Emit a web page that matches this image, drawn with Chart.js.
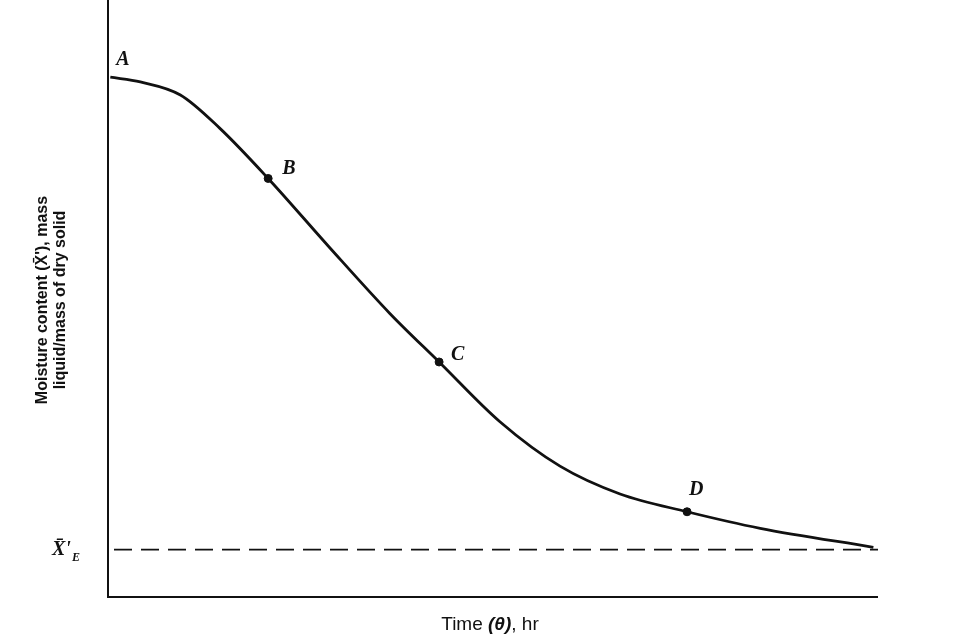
<!DOCTYPE html>
<html><head><meta charset="utf-8">
<script src="https://cdn.jsdelivr.net/npm/chart.js@4"></script>
<style>html,body{margin:0;padding:0;background:#fff}#w{width:968px;height:634px}</style>
</head><body><div id="w"><canvas id="c"></canvas></div>
<script>
const curveX = [0.3, 4.2, 9.4, 14.5, 20.8, 28.8, 36.6, 43.0, 50.9, 58.7, 66.5, 75.2, 84.7, 99.4];
const curveY = [87.8, 87.0, 84.8, 79.2, 70.7, 59.0, 47.9, 39.7, 29.6, 22.1, 17.4, 14.4, 11.6, 8.4];
const markLabels = ['B', 'C', 'D'];
const markX = [20.8, 43.0, 75.2];
const markY = [70.7, 39.7, 14.4];
const equilibriumY = 8.0;
const xTitle = ['Time ', '(θ)', ', hr'];
const yTitle = ["Moisture content (X̄'), mass", 'liquid/mass of dry solid'];

const deco = {
  id: 'deco',
  afterDraw(chart) {
    const {ctx, chartArea: a, scales: {x, y}} = chart;
    ctx.save();
    ctx.strokeStyle = '#111'; ctx.lineWidth = 2;
    ctx.beginPath(); ctx.moveTo(a.left, 0); ctx.lineTo(a.left, a.bottom); ctx.lineTo(a.right, a.bottom); ctx.stroke();
    ctx.lineWidth = 1.6; ctx.setLineDash([18, 9]);
    const ey = y.getPixelForValue(equilibriumY);
    ctx.beginPath(); ctx.moveTo(a.left + 6, ey); ctx.lineTo(a.right, ey); ctx.stroke();
    ctx.setLineDash([]);
    ctx.fillStyle = '#111';
    ctx.font = 'italic bold 20px "Liberation Serif", serif';
    ctx.fillText('A', x.getPixelForValue(curveX[0]) + 6, y.getPixelForValue(curveY[0]) - 12);
    const off = [[14, -4], [12, -2], [2, -17]];
    markLabels.forEach((l, i) => ctx.fillText(l, x.getPixelForValue(markX[i]) + off[i][0], y.getPixelForValue(markY[i]) + off[i][1]));
    ctx.fillText("X̄'", 52, ey + 5);
    ctx.font = 'italic bold 12px "Liberation Serif", serif';
    ctx.fillText('E', 72, ey + 11);
    // x title
    ctx.font = '19px "Liberation Sans", Arial, sans-serif';
    const w0 = ctx.measureText(xTitle[0]).width;
    ctx.font = 'italic bold 19px "Liberation Sans", Arial, sans-serif';
    const w1 = ctx.measureText(xTitle[1]).width;
    ctx.font = '19px "Liberation Sans", Arial, sans-serif';
    const w2 = ctx.measureText(xTitle[2]).width;
    let sx = 490 - (w0 + w1 + w2) / 2;
    ctx.fillText(xTitle[0], sx, 630);
    ctx.font = 'italic bold 19px "Liberation Sans", Arial, sans-serif';
    ctx.fillText(xTitle[1], sx + w0, 630);
    ctx.font = '19px "Liberation Sans", Arial, sans-serif';
    ctx.fillText(xTitle[2], sx + w0 + w1, 630);
    ctx.textAlign = 'center';
    ctx.font = 'bold 16px "Liberation Sans", Arial, sans-serif';
    ctx.translate(0, 300); ctx.rotate(-Math.PI / 2);
    ctx.fillText(yTitle[0], 0, 47);
    ctx.fillText(yTitle[1], 0, 65);
    ctx.restore();
  }
};

new Chart(document.getElementById('c'), {
  type: 'scatter',
  data: {datasets: [
    {data: curveX.map((v, i) => ({x: v, y: curveY[i]})), showLine: true, borderColor: '#111', borderWidth: 2.8, pointRadius: 0, cubicInterpolationMode: 'monotone'},
    {data: markX.map((v, i) => ({x: v, y: markY[i]})), backgroundColor: '#111', borderColor: '#111', pointRadius: 4}
  ]},
  options: {
    responsive: true, maintainAspectRatio: false, animation: false,
    layout: {padding: {left: 108, right: 90, top: 0, bottom: 37}},
    plugins: {legend: {display: false}, tooltip: {enabled: false}},
    scales: {
      x: {type: 'linear', min: 0, max: 100, display: false},
      y: {type: 'linear', min: 0, max: 100, display: false}
    }
  },
  plugins: [deco]
});
</script></body></html>
